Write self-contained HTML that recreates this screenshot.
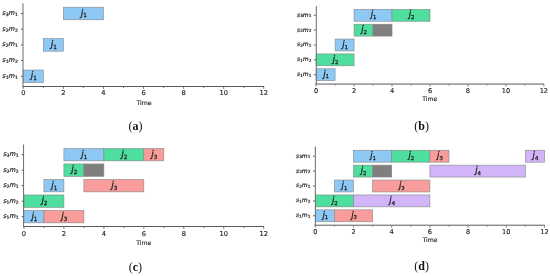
<!DOCTYPE html>
<html><head><meta charset="utf-8"><title>Gantt</title>
<style>
html,body{margin:0;padding:0;background:#fff;}
body{width:550px;height:276px;overflow:hidden;}
svg{display:block;}
text{font-family:"DejaVu Sans","Liberation Sans",sans-serif;fill:#222;stroke:#222;stroke-width:0.14px;}
.it{font-style:italic;stroke-width:0.26px;}
.cap{font-family:"Liberation Serif","DejaVu Serif",serif;font-size:12px;fill:#111;stroke:none;}
.cap .b{font-weight:bold;}
.yl{stroke-width:0.22px;fill:#2a2a2a;stroke:#2a2a2a;}
</style></head><body>
<svg width="550" height="276" viewBox="0 0 550 276">
<rect width="550" height="276" fill="#fff"/>

<g>
<rect x="23.3" y="70.02" width="20.04" height="12.56" fill="#8ec9f6" stroke="#868686" stroke-width="0.6"/>
<text class="it" x="33.82" y="78.4" font-size="8.9" text-anchor="middle">j<tspan font-style="normal" font-size="5.7" dy="1.78">1</tspan></text>
<rect x="43.34" y="38.62" width="20.04" height="12.56" fill="#8ec9f6" stroke="#868686" stroke-width="0.6"/>
<text class="it" x="53.86" y="47" font-size="8.9" text-anchor="middle">j<tspan font-style="normal" font-size="5.7" dy="1.78">1</tspan></text>
<rect x="63.38" y="7.22" width="40.08" height="12.56" fill="#8ec9f6" stroke="#868686" stroke-width="0.6"/>
<text class="it" x="83.92" y="15.6" font-size="8.9" text-anchor="middle">j<tspan font-style="normal" font-size="5.7" dy="1.78">1</tspan></text>
<path d="M23 3.3V86.9" fill="none" stroke="#727272" stroke-width="1.05"/>
<path d="M22.5 86.5H264.08" fill="none" stroke="#5a5a5a" stroke-width="1"/>
<path d="M22.9 13.5h-1.9" stroke="#4a4a4a" stroke-width="0.9"/>
<text class="it yl" x="17.8" y="15.03" font-size="6.5" text-anchor="end">s<tspan font-style="normal" font-size="4.55" dy="0.84">3</tspan><tspan dy="-0.84">m</tspan><tspan font-style="normal" font-size="4.55" dy="0.84">1</tspan></text>
<path d="M22.9 29.2h-1.9" stroke="#4a4a4a" stroke-width="0.9"/>
<text class="it yl" x="17.8" y="30.73" font-size="6.5" text-anchor="end">s<tspan font-style="normal" font-size="4.55" dy="0.84">2</tspan><tspan dy="-0.84">m</tspan><tspan font-style="normal" font-size="4.55" dy="0.84">2</tspan></text>
<path d="M22.9 44.9h-1.9" stroke="#4a4a4a" stroke-width="0.9"/>
<text class="it yl" x="17.8" y="46.43" font-size="6.5" text-anchor="end">s<tspan font-style="normal" font-size="4.55" dy="0.84">2</tspan><tspan dy="-0.84">m</tspan><tspan font-style="normal" font-size="4.55" dy="0.84">1</tspan></text>
<path d="M22.9 60.6h-1.9" stroke="#4a4a4a" stroke-width="0.9"/>
<text class="it yl" x="17.8" y="62.13" font-size="6.5" text-anchor="end">s<tspan font-style="normal" font-size="4.55" dy="0.84">1</tspan><tspan dy="-0.84">m</tspan><tspan font-style="normal" font-size="4.55" dy="0.84">2</tspan></text>
<path d="M22.9 76.3h-1.9" stroke="#4a4a4a" stroke-width="0.9"/>
<text class="it yl" x="17.8" y="77.83" font-size="6.5" text-anchor="end">s<tspan font-style="normal" font-size="4.55" dy="0.84">1</tspan><tspan dy="-0.84">m</tspan><tspan font-style="normal" font-size="4.55" dy="0.84">1</tspan></text>
<path d="M23.3 86.9v2" stroke="#5c5c5c" stroke-width="0.8"/>
<text x="23.3" y="95.45" font-size="6.71" text-anchor="middle">0</text>
<path d="M43.34 86.9v1.1" stroke="#5c5c5c" stroke-width="0.8"/>
<path d="M63.38 86.9v2" stroke="#5c5c5c" stroke-width="0.8"/>
<text x="63.38" y="95.45" font-size="6.71" text-anchor="middle">2</text>
<path d="M83.42 86.9v1.1" stroke="#5c5c5c" stroke-width="0.8"/>
<path d="M103.46 86.9v2" stroke="#5c5c5c" stroke-width="0.8"/>
<text x="103.46" y="95.45" font-size="6.71" text-anchor="middle">4</text>
<path d="M123.5 86.9v1.1" stroke="#5c5c5c" stroke-width="0.8"/>
<path d="M143.54 86.9v2" stroke="#5c5c5c" stroke-width="0.8"/>
<text x="143.54" y="95.45" font-size="6.71" text-anchor="middle">6</text>
<path d="M163.58 86.9v1.1" stroke="#5c5c5c" stroke-width="0.8"/>
<path d="M183.62 86.9v2" stroke="#5c5c5c" stroke-width="0.8"/>
<text x="183.62" y="95.45" font-size="6.71" text-anchor="middle">8</text>
<path d="M203.66 86.9v1.1" stroke="#5c5c5c" stroke-width="0.8"/>
<path d="M223.7 86.9v2" stroke="#5c5c5c" stroke-width="0.8"/>
<text x="223.7" y="95.45" font-size="6.71" text-anchor="middle">10</text>
<path d="M243.74 86.9v1.1" stroke="#5c5c5c" stroke-width="0.8"/>
<path d="M263.78 86.9v2" stroke="#5c5c5c" stroke-width="0.8"/>
<text x="263.78" y="95.45" font-size="6.71" text-anchor="middle">12</text>
<text x="144" y="104.5" font-size="6.21" text-anchor="middle">Time</text>
<text class="cap" x="135.4" y="129.75" text-anchor="middle">(<tspan class="b">a</tspan>)</text>
</g>
<g>
<rect x="316.1" y="68.76" width="18.98" height="11.88" fill="#8ec9f6" stroke="#868686" stroke-width="0.6"/>
<text class="it" x="326.09" y="76.67" font-size="8.4" text-anchor="middle">j<tspan font-style="normal" font-size="5.38" dy="1.68">1</tspan></text>
<rect x="335.08" y="39.06" width="18.98" height="11.88" fill="#8ec9f6" stroke="#868686" stroke-width="0.6"/>
<text class="it" x="345.07" y="46.97" font-size="8.4" text-anchor="middle">j<tspan font-style="normal" font-size="5.38" dy="1.68">1</tspan></text>
<rect x="354.06" y="9.36" width="37.96" height="11.88" fill="#8ec9f6" stroke="#868686" stroke-width="0.6"/>
<text class="it" x="373.54" y="17.27" font-size="8.4" text-anchor="middle">j<tspan font-style="normal" font-size="5.38" dy="1.68">1</tspan></text>
<rect x="316.1" y="53.91" width="37.96" height="11.88" fill="#4ede9d" stroke="#868686" stroke-width="0.6"/>
<text class="it" x="335.58" y="61.82" font-size="8.4" text-anchor="middle">j<tspan font-style="normal" font-size="5.38" dy="1.68">2</tspan></text>
<rect x="354.06" y="24.21" width="18.98" height="11.88" fill="#4ede9d" stroke="#868686" stroke-width="0.6"/>
<text class="it" x="364.05" y="32.12" font-size="8.4" text-anchor="middle">j<tspan font-style="normal" font-size="5.38" dy="1.68">2</tspan></text>
<rect x="373.04" y="24.21" width="18.98" height="11.88" fill="#7f7f7f" stroke="#868686" stroke-width="0.6"/>
<rect x="392.02" y="9.36" width="37.96" height="11.88" fill="#4ede9d" stroke="#868686" stroke-width="0.6"/>
<text class="it" x="411.5" y="17.27" font-size="8.4" text-anchor="middle">j<tspan font-style="normal" font-size="5.38" dy="1.68">2</tspan></text>
<path d="M316.3 5.9V84.45" fill="none" stroke="#727272" stroke-width="1.05"/>
<path d="M315.3 84.05H544.16" fill="none" stroke="#5a5a5a" stroke-width="1"/>
<path d="M315.7 15.3h-1.9" stroke="#4a4a4a" stroke-width="0.9"/>
<text class="it yl" x="311.4" y="16.71" font-size="6" text-anchor="end">s<tspan font-style="normal" font-size="4.2" dy="0.78">3</tspan><tspan dy="-0.78">m</tspan><tspan font-style="normal" font-size="4.2" dy="0.78">1</tspan></text>
<path d="M315.7 30.15h-1.9" stroke="#4a4a4a" stroke-width="0.9"/>
<text class="it yl" x="311.4" y="31.56" font-size="6" text-anchor="end">s<tspan font-style="normal" font-size="4.2" dy="0.78">2</tspan><tspan dy="-0.78">m</tspan><tspan font-style="normal" font-size="4.2" dy="0.78">2</tspan></text>
<path d="M315.7 45h-1.9" stroke="#4a4a4a" stroke-width="0.9"/>
<text class="it yl" x="311.4" y="46.41" font-size="6" text-anchor="end">s<tspan font-style="normal" font-size="4.2" dy="0.78">2</tspan><tspan dy="-0.78">m</tspan><tspan font-style="normal" font-size="4.2" dy="0.78">1</tspan></text>
<path d="M315.7 59.85h-1.9" stroke="#4a4a4a" stroke-width="0.9"/>
<text class="it yl" x="311.4" y="61.26" font-size="6" text-anchor="end">s<tspan font-style="normal" font-size="4.2" dy="0.78">1</tspan><tspan dy="-0.78">m</tspan><tspan font-style="normal" font-size="4.2" dy="0.78">2</tspan></text>
<path d="M315.7 74.7h-1.9" stroke="#4a4a4a" stroke-width="0.9"/>
<text class="it yl" x="311.4" y="76.11" font-size="6" text-anchor="end">s<tspan font-style="normal" font-size="4.2" dy="0.78">1</tspan><tspan dy="-0.78">m</tspan><tspan font-style="normal" font-size="4.2" dy="0.78">1</tspan></text>
<path d="M316.1 84.45v2" stroke="#5c5c5c" stroke-width="0.8"/>
<text x="316.1" y="93.21" font-size="6.6" text-anchor="middle">0</text>
<path d="M335.08 84.45v1.1" stroke="#5c5c5c" stroke-width="0.8"/>
<path d="M354.06 84.45v2" stroke="#5c5c5c" stroke-width="0.8"/>
<text x="354.06" y="93.21" font-size="6.6" text-anchor="middle">2</text>
<path d="M373.04 84.45v1.1" stroke="#5c5c5c" stroke-width="0.8"/>
<path d="M392.02 84.45v2" stroke="#5c5c5c" stroke-width="0.8"/>
<text x="392.02" y="93.21" font-size="6.6" text-anchor="middle">4</text>
<path d="M411 84.45v1.1" stroke="#5c5c5c" stroke-width="0.8"/>
<path d="M429.98 84.45v2" stroke="#5c5c5c" stroke-width="0.8"/>
<text x="429.98" y="93.21" font-size="6.6" text-anchor="middle">6</text>
<path d="M448.96 84.45v1.1" stroke="#5c5c5c" stroke-width="0.8"/>
<path d="M467.94 84.45v2" stroke="#5c5c5c" stroke-width="0.8"/>
<text x="467.94" y="93.21" font-size="6.6" text-anchor="middle">8</text>
<path d="M486.92 84.45v1.1" stroke="#5c5c5c" stroke-width="0.8"/>
<path d="M505.9 84.45v2" stroke="#5c5c5c" stroke-width="0.8"/>
<text x="505.9" y="93.21" font-size="6.6" text-anchor="middle">10</text>
<path d="M524.88 84.45v1.1" stroke="#5c5c5c" stroke-width="0.8"/>
<path d="M543.86 84.45v2" stroke="#5c5c5c" stroke-width="0.8"/>
<text x="543.86" y="93.21" font-size="6.6" text-anchor="middle">12</text>
<text x="429.7" y="101.21" font-size="6.11" text-anchor="middle">Time</text>
<text class="cap" x="421.6" y="129.9" text-anchor="middle">(<tspan class="b">b</tspan>)</text>
</g>
<g>
<rect x="23.95" y="210.45" width="19.98" height="12.4" fill="#8ec9f6" stroke="#868686" stroke-width="0.6"/>
<text class="it" x="34.44" y="218.75" font-size="8.9" text-anchor="middle">j<tspan font-style="normal" font-size="5.7" dy="1.78">1</tspan></text>
<rect x="43.93" y="179.45" width="19.98" height="12.4" fill="#8ec9f6" stroke="#868686" stroke-width="0.6"/>
<text class="it" x="54.42" y="187.75" font-size="8.9" text-anchor="middle">j<tspan font-style="normal" font-size="5.7" dy="1.78">1</tspan></text>
<rect x="63.91" y="148.45" width="39.96" height="12.4" fill="#8ec9f6" stroke="#868686" stroke-width="0.6"/>
<text class="it" x="84.39" y="156.75" font-size="8.9" text-anchor="middle">j<tspan font-style="normal" font-size="5.7" dy="1.78">1</tspan></text>
<rect x="23.95" y="194.95" width="39.96" height="12.4" fill="#4ede9d" stroke="#868686" stroke-width="0.6"/>
<text class="it" x="44.43" y="203.25" font-size="8.9" text-anchor="middle">j<tspan font-style="normal" font-size="5.7" dy="1.78">2</tspan></text>
<rect x="63.91" y="163.95" width="19.98" height="12.4" fill="#4ede9d" stroke="#868686" stroke-width="0.6"/>
<text class="it" x="74.4" y="172.25" font-size="8.9" text-anchor="middle">j<tspan font-style="normal" font-size="5.7" dy="1.78">2</tspan></text>
<rect x="83.89" y="163.95" width="19.98" height="12.4" fill="#7f7f7f" stroke="#868686" stroke-width="0.6"/>
<rect x="103.87" y="148.45" width="39.96" height="12.4" fill="#4ede9d" stroke="#868686" stroke-width="0.6"/>
<text class="it" x="124.35" y="156.75" font-size="8.9" text-anchor="middle">j<tspan font-style="normal" font-size="5.7" dy="1.78">2</tspan></text>
<rect x="43.93" y="210.45" width="39.96" height="12.4" fill="#f89d9c" stroke="#868686" stroke-width="0.6"/>
<text class="it" x="64.41" y="218.75" font-size="8.9" text-anchor="middle">j<tspan font-style="normal" font-size="5.7" dy="1.78">3</tspan></text>
<rect x="83.89" y="179.45" width="59.94" height="12.4" fill="#f89d9c" stroke="#868686" stroke-width="0.6"/>
<text class="it" x="114.36" y="187.75" font-size="8.9" text-anchor="middle">j<tspan font-style="normal" font-size="5.7" dy="1.78">3</tspan></text>
<rect x="143.83" y="148.45" width="19.98" height="12.4" fill="#f89d9c" stroke="#868686" stroke-width="0.6"/>
<text class="it" x="154.32" y="156.75" font-size="8.9" text-anchor="middle">j<tspan font-style="normal" font-size="5.7" dy="1.78">3</tspan></text>
<path d="M23.55 144.4V226.9" fill="none" stroke="#727272" stroke-width="1.05"/>
<path d="M23.15 226.5H264.01" fill="none" stroke="#5a5a5a" stroke-width="1"/>
<path d="M23.55 154.65h-1.9" stroke="#4a4a4a" stroke-width="0.9"/>
<text class="it yl" x="18.7" y="156.18" font-size="6.5" text-anchor="end">s<tspan font-style="normal" font-size="4.55" dy="0.84">3</tspan><tspan dy="-0.84">m</tspan><tspan font-style="normal" font-size="4.55" dy="0.84">1</tspan></text>
<path d="M23.55 170.15h-1.9" stroke="#4a4a4a" stroke-width="0.9"/>
<text class="it yl" x="18.7" y="171.68" font-size="6.5" text-anchor="end">s<tspan font-style="normal" font-size="4.55" dy="0.84">2</tspan><tspan dy="-0.84">m</tspan><tspan font-style="normal" font-size="4.55" dy="0.84">2</tspan></text>
<path d="M23.55 185.65h-1.9" stroke="#4a4a4a" stroke-width="0.9"/>
<text class="it yl" x="18.7" y="187.18" font-size="6.5" text-anchor="end">s<tspan font-style="normal" font-size="4.55" dy="0.84">2</tspan><tspan dy="-0.84">m</tspan><tspan font-style="normal" font-size="4.55" dy="0.84">1</tspan></text>
<path d="M23.55 201.15h-1.9" stroke="#4a4a4a" stroke-width="0.9"/>
<text class="it yl" x="18.7" y="202.68" font-size="6.5" text-anchor="end">s<tspan font-style="normal" font-size="4.55" dy="0.84">1</tspan><tspan dy="-0.84">m</tspan><tspan font-style="normal" font-size="4.55" dy="0.84">2</tspan></text>
<path d="M23.55 216.65h-1.9" stroke="#4a4a4a" stroke-width="0.9"/>
<text class="it yl" x="18.7" y="218.18" font-size="6.5" text-anchor="end">s<tspan font-style="normal" font-size="4.55" dy="0.84">1</tspan><tspan dy="-0.84">m</tspan><tspan font-style="normal" font-size="4.55" dy="0.84">1</tspan></text>
<path d="M23.95 226.9v2" stroke="#5c5c5c" stroke-width="0.8"/>
<text x="23.95" y="235.75" font-size="6.71" text-anchor="middle">0</text>
<path d="M43.93 226.9v1.1" stroke="#5c5c5c" stroke-width="0.8"/>
<path d="M63.91 226.9v2" stroke="#5c5c5c" stroke-width="0.8"/>
<text x="63.91" y="235.75" font-size="6.71" text-anchor="middle">2</text>
<path d="M83.89 226.9v1.1" stroke="#5c5c5c" stroke-width="0.8"/>
<path d="M103.87 226.9v2" stroke="#5c5c5c" stroke-width="0.8"/>
<text x="103.87" y="235.75" font-size="6.71" text-anchor="middle">4</text>
<path d="M123.85 226.9v1.1" stroke="#5c5c5c" stroke-width="0.8"/>
<path d="M143.83 226.9v2" stroke="#5c5c5c" stroke-width="0.8"/>
<text x="143.83" y="235.75" font-size="6.71" text-anchor="middle">6</text>
<path d="M163.81 226.9v1.1" stroke="#5c5c5c" stroke-width="0.8"/>
<path d="M183.79 226.9v2" stroke="#5c5c5c" stroke-width="0.8"/>
<text x="183.79" y="235.75" font-size="6.71" text-anchor="middle">8</text>
<path d="M203.77 226.9v1.1" stroke="#5c5c5c" stroke-width="0.8"/>
<path d="M223.75 226.9v2" stroke="#5c5c5c" stroke-width="0.8"/>
<text x="223.75" y="235.75" font-size="6.71" text-anchor="middle">10</text>
<path d="M243.73 226.9v1.1" stroke="#5c5c5c" stroke-width="0.8"/>
<path d="M263.71 226.9v2" stroke="#5c5c5c" stroke-width="0.8"/>
<text x="263.71" y="235.75" font-size="6.71" text-anchor="middle">12</text>
<text x="143.8" y="245" font-size="6.21" text-anchor="middle">Time</text>
<text class="cap" x="135.3" y="271.2" text-anchor="middle">(<tspan class="b">c</tspan>)</text>
</g>
<g>
<rect x="315.3" y="209.84" width="19.1" height="11.92" fill="#8ec9f6" stroke="#868686" stroke-width="0.6"/>
<text class="it" x="325.35" y="217.77" font-size="8.4" text-anchor="middle">j<tspan font-style="normal" font-size="5.38" dy="1.68">1</tspan></text>
<rect x="334.4" y="180.04" width="19.1" height="11.92" fill="#8ec9f6" stroke="#868686" stroke-width="0.6"/>
<text class="it" x="344.45" y="187.97" font-size="8.4" text-anchor="middle">j<tspan font-style="normal" font-size="5.38" dy="1.68">1</tspan></text>
<rect x="353.5" y="150.24" width="38.2" height="11.92" fill="#8ec9f6" stroke="#868686" stroke-width="0.6"/>
<text class="it" x="373.1" y="158.17" font-size="8.4" text-anchor="middle">j<tspan font-style="normal" font-size="5.38" dy="1.68">1</tspan></text>
<rect x="315.3" y="194.94" width="38.2" height="11.92" fill="#4ede9d" stroke="#868686" stroke-width="0.6"/>
<text class="it" x="334.9" y="202.87" font-size="8.4" text-anchor="middle">j<tspan font-style="normal" font-size="5.38" dy="1.68">2</tspan></text>
<rect x="353.5" y="165.14" width="19.1" height="11.92" fill="#4ede9d" stroke="#868686" stroke-width="0.6"/>
<text class="it" x="363.55" y="173.07" font-size="8.4" text-anchor="middle">j<tspan font-style="normal" font-size="5.38" dy="1.68">2</tspan></text>
<rect x="372.6" y="165.14" width="19.1" height="11.92" fill="#7f7f7f" stroke="#868686" stroke-width="0.6"/>
<rect x="391.7" y="150.24" width="38.2" height="11.92" fill="#4ede9d" stroke="#868686" stroke-width="0.6"/>
<text class="it" x="411.3" y="158.17" font-size="8.4" text-anchor="middle">j<tspan font-style="normal" font-size="5.38" dy="1.68">2</tspan></text>
<rect x="334.4" y="209.84" width="38.2" height="11.92" fill="#f89d9c" stroke="#868686" stroke-width="0.6"/>
<text class="it" x="354" y="217.77" font-size="8.4" text-anchor="middle">j<tspan font-style="normal" font-size="5.38" dy="1.68">3</tspan></text>
<rect x="372.6" y="180.04" width="57.3" height="11.92" fill="#f89d9c" stroke="#868686" stroke-width="0.6"/>
<text class="it" x="401.75" y="187.97" font-size="8.4" text-anchor="middle">j<tspan font-style="normal" font-size="5.38" dy="1.68">3</tspan></text>
<rect x="429.9" y="150.24" width="19.1" height="11.92" fill="#f89d9c" stroke="#868686" stroke-width="0.6"/>
<text class="it" x="439.95" y="158.17" font-size="8.4" text-anchor="middle">j<tspan font-style="normal" font-size="5.38" dy="1.68">3</tspan></text>
<rect x="353.5" y="194.94" width="76.4" height="11.92" fill="#d2b5f9" stroke="#868686" stroke-width="0.6"/>
<text class="it" x="392.2" y="202.87" font-size="8.4" text-anchor="middle">j<tspan font-style="normal" font-size="5.38" dy="1.68">4</tspan></text>
<rect x="429.9" y="165.14" width="95.5" height="11.92" fill="#d2b5f9" stroke="#868686" stroke-width="0.6"/>
<text class="it" x="478.15" y="173.07" font-size="8.4" text-anchor="middle">j<tspan font-style="normal" font-size="5.38" dy="1.68">4</tspan></text>
<rect x="525.4" y="150.24" width="19.1" height="11.92" fill="#d2b5f9" stroke="#868686" stroke-width="0.6"/>
<text class="it" x="535.45" y="158.17" font-size="8.4" text-anchor="middle">j<tspan font-style="normal" font-size="5.38" dy="1.68">4</tspan></text>
<path d="M315.35 146.6V225.6" fill="none" stroke="#727272" stroke-width="1.05"/>
<path d="M314.5 225.2H544.8" fill="none" stroke="#5a5a5a" stroke-width="1"/>
<path d="M314.9 156.2h-1.9" stroke="#4a4a4a" stroke-width="0.9"/>
<text class="it yl" x="310.4" y="157.61" font-size="6" text-anchor="end">s<tspan font-style="normal" font-size="4.2" dy="0.78">3</tspan><tspan dy="-0.78">m</tspan><tspan font-style="normal" font-size="4.2" dy="0.78">1</tspan></text>
<path d="M314.9 171.1h-1.9" stroke="#4a4a4a" stroke-width="0.9"/>
<text class="it yl" x="310.4" y="172.51" font-size="6" text-anchor="end">s<tspan font-style="normal" font-size="4.2" dy="0.78">2</tspan><tspan dy="-0.78">m</tspan><tspan font-style="normal" font-size="4.2" dy="0.78">2</tspan></text>
<path d="M314.9 186h-1.9" stroke="#4a4a4a" stroke-width="0.9"/>
<text class="it yl" x="310.4" y="187.41" font-size="6" text-anchor="end">s<tspan font-style="normal" font-size="4.2" dy="0.78">2</tspan><tspan dy="-0.78">m</tspan><tspan font-style="normal" font-size="4.2" dy="0.78">1</tspan></text>
<path d="M314.9 200.9h-1.9" stroke="#4a4a4a" stroke-width="0.9"/>
<text class="it yl" x="310.4" y="202.31" font-size="6" text-anchor="end">s<tspan font-style="normal" font-size="4.2" dy="0.78">1</tspan><tspan dy="-0.78">m</tspan><tspan font-style="normal" font-size="4.2" dy="0.78">2</tspan></text>
<path d="M314.9 215.8h-1.9" stroke="#4a4a4a" stroke-width="0.9"/>
<text class="it yl" x="310.4" y="217.21" font-size="6" text-anchor="end">s<tspan font-style="normal" font-size="4.2" dy="0.78">1</tspan><tspan dy="-0.78">m</tspan><tspan font-style="normal" font-size="4.2" dy="0.78">1</tspan></text>
<path d="M315.3 225.6v2" stroke="#5c5c5c" stroke-width="0.8"/>
<text x="315.3" y="234.31" font-size="6.6" text-anchor="middle">0</text>
<path d="M334.4 225.6v1.1" stroke="#5c5c5c" stroke-width="0.8"/>
<path d="M353.5 225.6v2" stroke="#5c5c5c" stroke-width="0.8"/>
<text x="353.5" y="234.31" font-size="6.6" text-anchor="middle">2</text>
<path d="M372.6 225.6v1.1" stroke="#5c5c5c" stroke-width="0.8"/>
<path d="M391.7 225.6v2" stroke="#5c5c5c" stroke-width="0.8"/>
<text x="391.7" y="234.31" font-size="6.6" text-anchor="middle">4</text>
<path d="M410.8 225.6v1.1" stroke="#5c5c5c" stroke-width="0.8"/>
<path d="M429.9 225.6v2" stroke="#5c5c5c" stroke-width="0.8"/>
<text x="429.9" y="234.31" font-size="6.6" text-anchor="middle">6</text>
<path d="M449 225.6v1.1" stroke="#5c5c5c" stroke-width="0.8"/>
<path d="M468.1 225.6v2" stroke="#5c5c5c" stroke-width="0.8"/>
<text x="468.1" y="234.31" font-size="6.6" text-anchor="middle">8</text>
<path d="M487.2 225.6v1.1" stroke="#5c5c5c" stroke-width="0.8"/>
<path d="M506.3 225.6v2" stroke="#5c5c5c" stroke-width="0.8"/>
<text x="506.3" y="234.31" font-size="6.6" text-anchor="middle">10</text>
<path d="M525.4 225.6v1.1" stroke="#5c5c5c" stroke-width="0.8"/>
<path d="M544.5 225.6v2" stroke="#5c5c5c" stroke-width="0.8"/>
<text x="544.5" y="234.31" font-size="6.6" text-anchor="middle">12</text>
<text x="430" y="242.46" font-size="6.11" text-anchor="middle">Time</text>
<text class="cap" x="421.7" y="270.3" text-anchor="middle">(<tspan class="b">d</tspan>)</text>
</g>
</svg></body></html>
